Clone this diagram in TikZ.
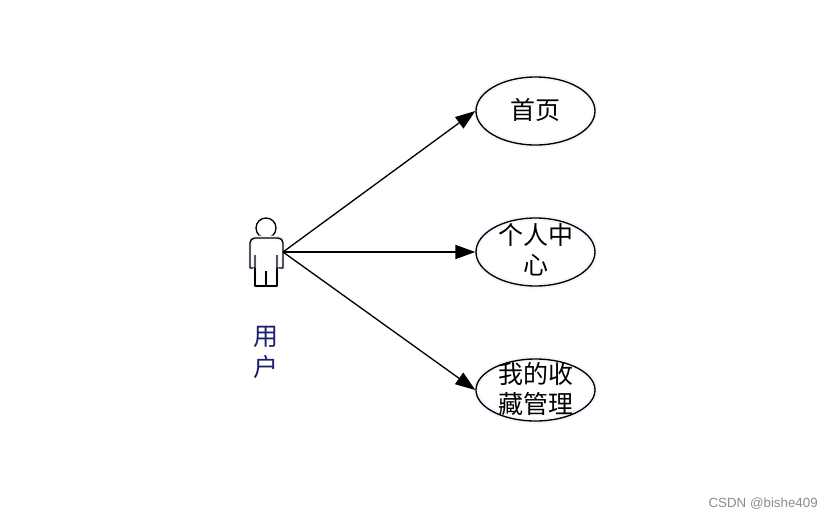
\documentclass[tikz,border=0pt]{standalone}
\usepackage{fontspec}
\setmainfont{Noto Sans CJK SC}
\newfontfamily\wmfont{Liberation Sans}
\usetikzlibrary{arrows.meta,positioning,shapes.geometric}
\definecolor{usernavy}{RGB}{25,30,110}
\definecolor{halo}{RGB}{243,247,253}
\newcommand{\lowstrut}[1]{\rule[-#1]{0pt}{#1}}
\tikzset{
  usecase/.style={ellipse, draw, line width=1pt, minimum width=89.25pt, minimum height=51pt,
    inner sep=-8pt, align=center, font=\fontsize{18.75}{22.5}\selectfont,
    preaction={draw=halo, line width=4pt}},
  figure/.style={line width=1pt, line join=round, preaction={draw=halo, line width=3.5pt}},
  assoc/.style={-{Triangle[length=15pt,width=10.5pt]}, line width=1pt}
}
\begin{document}
\begin{tikzpicture}[x=0.75pt,y=-0.75pt]
\useasboundingbox (0,0) rectangle (833,519);
% nodes
\node[usecase] (home) at (535.5,111) {首页\lowstrut{3pt}};
\node[usecase, below=53.75pt of home] (center) {个人中\\心\lowstrut{4.5pt}};
\node[usecase, below=53.75pt of center, minimum height=46.5pt] (fav) {我的收\\藏管理\lowstrut{2.5pt}};
\node[align=center, inner sep=0pt, text=usernavy, font=\fontsize{18.75}{23.25}\selectfont] (user) at (266,352) {用\\户};
\node[inner sep=0pt, anchor=east, text=black!45, font=\wmfont\fontsize{10}{12}\selectfont] (mark) at (818,504) {CSDN @bishe409};

% actor
\node[circle, draw, line width=1pt, minimum size=15pt, inner sep=0pt] (head) at (266,228) {};
\draw[figure] (255,255) -- (255,268) -- (250,268) -- (250,243) .. controls (250,240) and (252,238) .. (255,238) -- (278,238) .. controls (281,238) and (283,240) .. (283,243) -- (283,268) -- (277,268) -- (277,255);
\draw[figure] (255,268) -- (255,286) -- (277,286) -- (277,268) (266,271) -- (266,286);
\coordinate (hand) at (283,252);

% edges
\draw[assoc] (hand) -- (home.west);
\draw[assoc, line width=1.5pt] (hand) -- (center.west);
\draw[assoc] (hand) -- (fav.west);
\end{tikzpicture}
\end{document}
